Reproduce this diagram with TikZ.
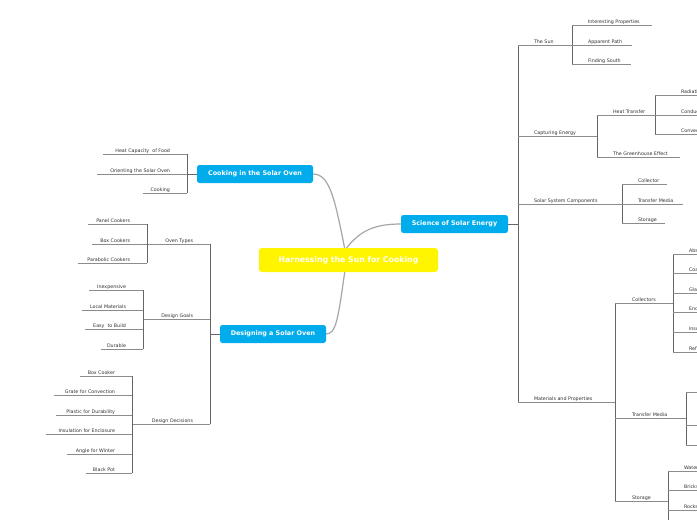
\documentclass[tikz,border=0pt]{standalone}
\usepackage{fontspec}
\setmainfont{DejaVu Sans}
\definecolor{boxblue}{RGB}{0,172,236}
\definecolor{sunyel}{RGB}{255,245,0}
\newcounter{lf}
\begin{document}
\begin{tikzpicture}[x=1pt,y=-1pt,
  lbl/.style={font=\fontsize{4.8}{5}\selectfont, text=black!80, inner sep=0.8pt},
  ln/.style={draw=black!45, line width=0.7pt},
  br/.style={draw=black!60, line width=0.7pt},
  box/.style={rounded corners=2.5pt, fill=boxblue, text=white, font=\fontsize{6.4}{7}\selectfont\bfseries, inner sep=0pt},
  link/.style={draw=black!35, line width=1.2pt}]
\useasboundingbox (0,0) rectangle (697,520);
\clip (0,0) rectangle (697,520);
\newcommand\Rleaf[5]{\stepcounter{lf}\draw[ln] (#1,#3) -- (#2,#3); \node[lbl,anchor=south west] (leaf\thelf) at (#4,#3) {#5};}
\newcommand\Lleaf[5]{\stepcounter{lf}\draw[ln] (#1,#3) -- (#2,#3); \node[lbl,anchor=south east] (leaf\thelf) at (#4,#3) {#5};}
% connectors first (behind boxes)
\coordinate (ctop) at (345,250);
\coordinate (cbot) at (345,270);
\draw[link] (ctop) .. controls (360,230) and (375,224) .. (401,224);
\draw[link] (ctop) .. controls (335,200) and (330,174) .. (313,174);
\draw[link] (cbot) .. controls (338,320) and (336,334) .. (326,334);
% central
\node[fill=sunyel, rounded corners=3pt, minimum width=179pt, minimum height=24pt, text=white, font=\fontsize{7.8}{9}\selectfont\bfseries] (center) at (348.5,260) {Harnessing the Sun for Cooking};
\node[box, minimum width=107pt, minimum height=18pt] (sci) at (454.5,224) {Science of Solar Energy};
\node[box, minimum width=116pt, minimum height=18pt] (cook) at (255,174) {Cooking in the Solar Oven};
\node[box, minimum width=106pt, minimum height=18pt] (des) at (273,334) {Designing a Solar Oven};
% Science
\draw[br] (sci.east) -- (518,224);
\draw[br] (518,45) -- (518,402);
\Rleaf{518}{572}{45}{533}{The Sun}
\draw[br] (572,25) -- (572,64);
\Rleaf{572}{652}{25}{587}{Interesting Properties}
\Rleaf{572}{632}{45}{587}{Apparent Path}
\Rleaf{572}{631}{64}{587}{Finding South}
\Rleaf{518}{597}{136}{533}{Capturing Energy}
\draw[br] (597,115) -- (597,157);
\Rleaf{597}{655}{115}{612}{Heat Transfer}
\draw[br] (655,95) -- (655,134);
\Rleaf{655}{700}{95}{680}{Radiation}
\Rleaf{655}{700}{115}{680}{Conduction}
\Rleaf{655}{700}{134}{680}{Convection}
\Rleaf{597}{680}{157}{612}{The Greenhouse Effect}
\Rleaf{518}{622}{204}{533}{Solar System Components}
\draw[br] (622,184) -- (622,223);
\Rleaf{622}{667}{184}{637}{Collector}
\Rleaf{622}{683}{204}{637}{Transfer Media}
\Rleaf{622}{665}{223}{637}{Storage}
\Rleaf{518}{615}{402}{533}{Materials and Properties}
\draw[br] (615,303) -- (615,501);
\Rleaf{615}{673}{303}{631}{Collectors}
\draw[br] (673,254) -- (673,352);
\Rleaf{673}{700}{254}{688}{Absorbers}
\Rleaf{673}{700}{273}{688}{Coatings}
\Rleaf{673}{700}{293}{688}{Glazing}
\Rleaf{673}{700}{312}{688}{Enclosure}
\Rleaf{673}{700}{332}{688}{Insulation}
\Rleaf{673}{700}{352}{688}{Reflectors}
\Rleaf{615}{686}{418}{631}{Transfer Media}
\draw[br] (686,392) -- (686,445);
\draw[ln] (686,392) -- (700,392);
\draw[ln] (686,425) -- (700,425);
\draw[ln] (686,445) -- (700,445);
\Rleaf{615}{668}{501}{631}{Storage}
\draw[br] (668,471) -- (668,525);
\Rleaf{668}{700}{471}{683}{Water}
\Rleaf{668}{700}{490}{683}{Bricks}
\Rleaf{668}{700}{510}{683}{Rocks}
% Cooking
\draw[br] (cook.west) -- (187,174);
\draw[br] (187,154) -- (187,193);
\Lleaf{103}{187}{154}{171}{Heat Capacity\ \ of Food}
\Lleaf{97}{187}{174}{171}{Orienting the Solar Oven}
\Lleaf{143}{187}{193}{171}{Cooking}
% Designing
\draw[br] (des.west) -- (210,334);
\draw[br] (210,244) -- (210,424);
\Lleaf{147}{210}{244}{194}{Oven Types}
\draw[br] (147,224) -- (147,263);
\Lleaf{88}{147}{224}{131}{Panel Cookers}
\Lleaf{92}{147}{244}{131}{Box Cookers}
\Lleaf{78}{147}{263}{131}{Parabolic Cookers}
\Lleaf{143}{210}{319}{194}{Design Goals}
\draw[br] (143,290) -- (143,349);
\Lleaf{89}{143}{290}{127}{Inexpensive}
\Lleaf{82}{143}{310}{127}{Local Materials}
\Lleaf{85}{143}{329}{127}{Easy\ \ to Build}
\Lleaf{101}{143}{349}{127}{Durable}
\Lleaf{132}{210}{424}{194}{Design Decisions}
\draw[br] (132,376) -- (132,473);
\Lleaf{80}{132}{376}{116}{Box Cooker}
\Lleaf{54}{132}{395}{116}{Grate for Convection}
\Lleaf{56}{132}{415}{116}{Plastic for Durability}
\Lleaf{46}{132}{434}{116}{Insulation for Enclosure}
\Lleaf{67}{132}{454}{116}{Angle for Winter}
\Lleaf{86}{132}{473}{116}{Black Pot}
\end{tikzpicture}
\end{document}
